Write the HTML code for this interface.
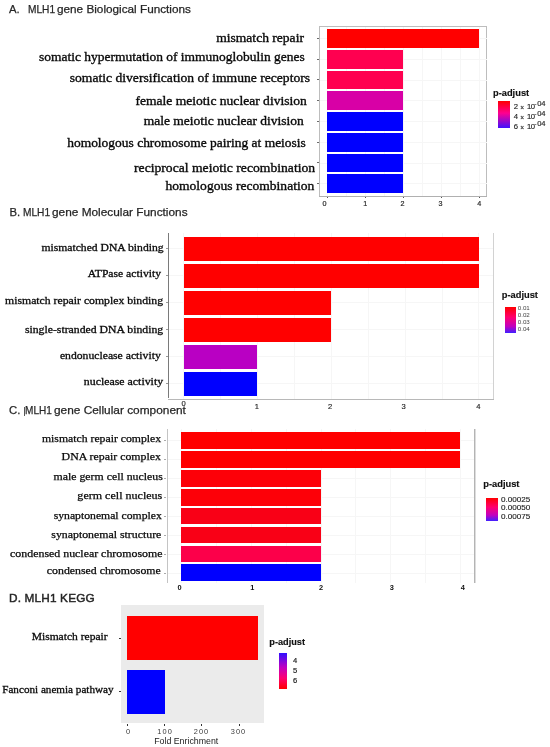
<!DOCTYPE html>
<html><head><meta charset="utf-8"><title>MLH1 enrichment</title>
<style>
html,body{margin:0;padding:0;background:#fff;}
body{width:550px;height:747px;position:relative;overflow:hidden;}
</style></head><body>
<div style="position:absolute;left:9.00px;top:3.73px;font:11.3px/11.3px 'Liberation Sans', sans-serif;color:#262626;white-space:nowrap;-webkit-text-stroke:0.25px #262626;">A.</div>
<div style="position:absolute;left:27.70px;top:3.73px;font:11.3px/11.3px 'Liberation Sans', sans-serif;color:#262626;white-space:nowrap;-webkit-text-stroke:0.25px #262626;transform:scaleX(0.9000);transform-origin:left 0;">MLH1</div>
<div style="position:absolute;left:56.90px;top:3.73px;font:11.3px/11.3px 'Liberation Sans', sans-serif;color:#262626;white-space:nowrap;-webkit-text-stroke:0.25px #262626;transform:scaleX(1.0400);transform-origin:left 0;">gene Biological Functions</div>
<div style="position:absolute;left:9.50px;top:206.63px;font:11.3px/11.3px 'Liberation Sans', sans-serif;color:#262626;white-space:nowrap;-webkit-text-stroke:0.25px #262626;">B.</div>
<div style="position:absolute;left:22.50px;top:206.63px;font:11.3px/11.3px 'Liberation Sans', sans-serif;color:#262626;white-space:nowrap;-webkit-text-stroke:0.25px #262626;transform:scaleX(0.9000);transform-origin:left 0;">MLH1</div>
<div style="position:absolute;left:51.90px;top:206.63px;font:11.3px/11.3px 'Liberation Sans', sans-serif;color:#262626;white-space:nowrap;-webkit-text-stroke:0.25px #262626;transform:scaleX(1.0480);transform-origin:left 0;">gene Molecular Functions</div>
<div style="position:absolute;left:9.10px;top:405.13px;font:11.3px/11.3px 'Liberation Sans', sans-serif;color:#262626;white-space:nowrap;-webkit-text-stroke:0.25px #262626;">C.</div>
<div style="position:absolute;left:24.30px;top:406.50px;width:0.80px;height:9.00px;background:#555;"></div>
<div style="position:absolute;left:25.10px;top:405.13px;font:11.3px/11.3px 'Liberation Sans', sans-serif;color:#262626;white-space:nowrap;-webkit-text-stroke:0.25px #262626;transform:scaleX(0.8900);transform-origin:left 0;">MLH1</div>
<div style="position:absolute;left:53.70px;top:405.13px;font:11.3px/11.3px 'Liberation Sans', sans-serif;color:#262626;white-space:nowrap;-webkit-text-stroke:0.25px #262626;transform:scaleX(1.0500);transform-origin:left 0;">gene Cellular component</div>
<div style="position:absolute;left:9.10px;top:593.01px;font:11.8px/11.8px 'Liberation Sans', sans-serif;color:#262626;white-space:nowrap;-webkit-text-stroke:0.45px #262626;letter-spacing:0.15px;">D. MLH1 KEGG</div>
<div style="position:absolute;left:326.75px;top:26.00px;width:0.50px;height:170.50px;background:#f6f6f6;"></div>
<div style="position:absolute;left:345.75px;top:26.00px;width:0.50px;height:170.50px;background:#f6f6f6;"></div>
<div style="position:absolute;left:364.75px;top:26.00px;width:0.50px;height:170.50px;background:#f6f6f6;"></div>
<div style="position:absolute;left:383.75px;top:26.00px;width:0.50px;height:170.50px;background:#f6f6f6;"></div>
<div style="position:absolute;left:402.75px;top:26.00px;width:0.50px;height:170.50px;background:#f6f6f6;"></div>
<div style="position:absolute;left:421.75px;top:26.00px;width:0.50px;height:170.50px;background:#f6f6f6;"></div>
<div style="position:absolute;left:440.75px;top:26.00px;width:0.50px;height:170.50px;background:#f6f6f6;"></div>
<div style="position:absolute;left:459.75px;top:26.00px;width:0.50px;height:170.50px;background:#f6f6f6;"></div>
<div style="position:absolute;left:478.75px;top:26.00px;width:0.50px;height:170.50px;background:#f6f6f6;"></div>
<div style="position:absolute;left:319.00px;top:26.00px;width:1.00px;height:171.00px;background:#bdbdbd;"></div>
<div style="position:absolute;left:486.00px;top:26.00px;width:1.00px;height:171.00px;background:#bdbdbd;"></div>
<div style="position:absolute;left:319.00px;top:26.00px;width:168.00px;height:1.00px;background:#bdbdbd;"></div>
<div style="position:absolute;left:319.00px;top:196.00px;width:168.00px;height:1.00px;background:#b0b0b0;"></div>
<div style="position:absolute;left:320.00px;top:38.15px;width:166.50px;height:0.50px;background:#f6f6f6;"></div>
<div style="position:absolute;left:320.00px;top:58.90px;width:166.50px;height:0.50px;background:#f6f6f6;"></div>
<div style="position:absolute;left:320.00px;top:79.65px;width:166.50px;height:0.50px;background:#f6f6f6;"></div>
<div style="position:absolute;left:320.00px;top:100.40px;width:166.50px;height:0.50px;background:#f6f6f6;"></div>
<div style="position:absolute;left:320.00px;top:121.15px;width:166.50px;height:0.50px;background:#f6f6f6;"></div>
<div style="position:absolute;left:320.00px;top:141.90px;width:166.50px;height:0.50px;background:#f6f6f6;"></div>
<div style="position:absolute;left:320.00px;top:162.65px;width:166.50px;height:0.50px;background:#f6f6f6;"></div>
<div style="position:absolute;left:320.00px;top:183.40px;width:166.50px;height:0.50px;background:#f6f6f6;"></div>
<div style="position:absolute;left:327.00px;top:29.00px;width:152.00px;height:18.80px;background:#ff0000;"></div>
<div style="position:absolute;left:317.00px;top:37.90px;width:2.00px;height:1.00px;background:#6a6a6a;"></div>
<div style="position:absolute;left:327.00px;top:49.75px;width:76.00px;height:18.80px;background:#ff0050;"></div>
<div style="position:absolute;left:317.00px;top:58.65px;width:2.00px;height:1.00px;background:#6a6a6a;"></div>
<div style="position:absolute;left:327.00px;top:70.50px;width:76.00px;height:18.80px;background:#ff0050;"></div>
<div style="position:absolute;left:317.00px;top:79.40px;width:2.00px;height:1.00px;background:#6a6a6a;"></div>
<div style="position:absolute;left:327.00px;top:91.25px;width:76.00px;height:18.80px;background:#d800a6;"></div>
<div style="position:absolute;left:317.00px;top:100.15px;width:2.00px;height:1.00px;background:#6a6a6a;"></div>
<div style="position:absolute;left:327.00px;top:112.00px;width:76.00px;height:18.80px;background:#0000ff;"></div>
<div style="position:absolute;left:317.00px;top:120.90px;width:2.00px;height:1.00px;background:#6a6a6a;"></div>
<div style="position:absolute;left:327.00px;top:132.75px;width:76.00px;height:18.80px;background:#0000ff;"></div>
<div style="position:absolute;left:317.00px;top:141.65px;width:2.00px;height:1.00px;background:#6a6a6a;"></div>
<div style="position:absolute;left:327.00px;top:153.50px;width:76.00px;height:18.80px;background:#0000ff;"></div>
<div style="position:absolute;left:317.00px;top:162.40px;width:2.00px;height:1.00px;background:#6a6a6a;"></div>
<div style="position:absolute;left:327.00px;top:174.25px;width:76.00px;height:18.80px;background:#0000ff;"></div>
<div style="position:absolute;left:317.00px;top:183.15px;width:2.00px;height:1.00px;background:#6a6a6a;"></div>
<div style="position:absolute;left:326.50px;top:197.00px;width:1.00px;height:1.00px;background:#555;"></div>
<div style="position:absolute;left:364.50px;top:197.00px;width:1.00px;height:1.00px;background:#555;"></div>
<div style="position:absolute;left:402.50px;top:197.00px;width:1.00px;height:1.00px;background:#555;"></div>
<div style="position:absolute;left:440.50px;top:197.00px;width:1.00px;height:1.00px;background:#555;"></div>
<div style="position:absolute;left:478.50px;top:197.00px;width:1.00px;height:1.00px;background:#555;"></div>
<div style="position:absolute;right:246.50px;text-align:right;top:31.13px;font:12.98076923076923px/12.98076923076923px 'Liberation Serif', serif;color:#0a0a0a;white-space:nowrap;-webkit-text-stroke:0.35px #0a0a0a;transform:scaleX(1.0448);transform-origin:right 0;">mismatch repair</div>
<div style="position:absolute;right:244.80px;text-align:right;top:49.93px;font:12.98076923076923px/12.98076923076923px 'Liberation Serif', serif;color:#0a0a0a;white-space:nowrap;-webkit-text-stroke:0.35px #0a0a0a;transform:scaleX(1.0391);transform-origin:right 0;">somatic hypermutation of immunoglobulin genes</div>
<div style="position:absolute;right:240.00px;text-align:right;top:71.33px;font:12.98076923076923px/12.98076923076923px 'Liberation Serif', serif;color:#0a0a0a;white-space:nowrap;-webkit-text-stroke:0.35px #0a0a0a;transform:scaleX(1.0491);transform-origin:right 0;">somatic diversification of immune receptors</div>
<div style="position:absolute;right:243.60px;text-align:right;top:93.83px;font:12.98076923076923px/12.98076923076923px 'Liberation Serif', serif;color:#0a0a0a;white-space:nowrap;-webkit-text-stroke:0.35px #0a0a0a;transform:scaleX(1.0464);transform-origin:right 0;">female meiotic nuclear division</div>
<div style="position:absolute;right:246.50px;text-align:right;top:114.13px;font:12.98076923076923px/12.98076923076923px 'Liberation Serif', serif;color:#0a0a0a;white-space:nowrap;-webkit-text-stroke:0.35px #0a0a0a;transform:scaleX(1.0410);transform-origin:right 0;">male meiotic nuclear division</div>
<div style="position:absolute;right:244.00px;text-align:right;top:136.33px;font:12.98076923076923px/12.98076923076923px 'Liberation Serif', serif;color:#0a0a0a;white-space:nowrap;-webkit-text-stroke:0.35px #0a0a0a;transform:scaleX(1.0383);transform-origin:right 0;">homologous chromosome pairing at meiosis</div>
<div style="position:absolute;right:235.00px;text-align:right;top:160.53px;font:12.98076923076923px/12.98076923076923px 'Liberation Serif', serif;color:#0a0a0a;white-space:nowrap;-webkit-text-stroke:0.35px #0a0a0a;transform:scaleX(1.0521);transform-origin:right 0;">reciprocal meiotic recombination</div>
<div style="position:absolute;right:235.30px;text-align:right;top:179.13px;font:12.98076923076923px/12.98076923076923px 'Liberation Serif', serif;color:#0a0a0a;white-space:nowrap;-webkit-text-stroke:0.35px #0a0a0a;transform:scaleX(1.0462);transform-origin:right 0;">homologous recombination</div>
<div style="position:absolute;left:224.50px;width:200px;text-align:center;top:199.98px;font:7.2px/7.2px 'Liberation Sans', sans-serif;color:#2a2a2a;white-space:nowrap;-webkit-text-stroke:0.2px #2a2a2a;">0</div>
<div style="position:absolute;left:265.30px;width:200px;text-align:center;top:199.98px;font:7.2px/7.2px 'Liberation Sans', sans-serif;color:#2a2a2a;white-space:nowrap;-webkit-text-stroke:0.2px #2a2a2a;">1</div>
<div style="position:absolute;left:302.50px;width:200px;text-align:center;top:199.98px;font:7.2px/7.2px 'Liberation Sans', sans-serif;color:#2a2a2a;white-space:nowrap;-webkit-text-stroke:0.2px #2a2a2a;">2</div>
<div style="position:absolute;left:340.60px;width:200px;text-align:center;top:199.98px;font:7.2px/7.2px 'Liberation Sans', sans-serif;color:#2a2a2a;white-space:nowrap;-webkit-text-stroke:0.2px #2a2a2a;">3</div>
<div style="position:absolute;left:379.30px;width:200px;text-align:center;top:199.98px;font:7.2px/7.2px 'Liberation Sans', sans-serif;color:#2a2a2a;white-space:nowrap;-webkit-text-stroke:0.2px #2a2a2a;">4</div>
<div style="position:absolute;left:493.00px;top:89.43px;font:9.3px/9.3px 'Liberation Sans', sans-serif;font-weight:bold;color:#111;white-space:nowrap;-webkit-text-stroke:0.15px #111;">p-adjust</div>
<div style="position:absolute;left:498.00px;top:101.30px;width:12.00px;height:26.60px;background:linear-gradient(#ff0000, #ff0090 45%, #4010ff);"></div>
<div style="position:absolute;left:513.80px;top:103.08px;font:7.7px/7.7px 'Liberation Sans', sans-serif;color:#262626;white-space:nowrap;-webkit-text-stroke:0.15px #262626;">2</div>
<div style="position:absolute;left:520.20px;top:104.61px;font:6.6px/6.6px 'Liberation Sans', sans-serif;color:#262626;white-space:nowrap;-webkit-text-stroke:0.15px #262626;">×</div>
<div style="position:absolute;left:527.00px;top:103.08px;font:7.7px/7.7px 'Liberation Sans', sans-serif;color:#262626;white-space:nowrap;-webkit-text-stroke:0.15px #262626;letter-spacing:-0.6px;">10</div>
<div style="position:absolute;left:534.20px;top:99.87px;font:7.0px/7.0px 'Liberation Sans', sans-serif;color:#262626;white-space:nowrap;-webkit-text-stroke:0.15px #262626;">-</div>
<div style="position:absolute;left:537.30px;top:100.17px;font:7.6px/7.6px 'Liberation Sans', sans-serif;color:#262626;white-space:nowrap;-webkit-text-stroke:0.15px #262626;letter-spacing:-0.3px;">04</div>
<div style="position:absolute;left:513.80px;top:113.28px;font:7.7px/7.7px 'Liberation Sans', sans-serif;color:#262626;white-space:nowrap;-webkit-text-stroke:0.15px #262626;">4</div>
<div style="position:absolute;left:520.20px;top:114.81px;font:6.6px/6.6px 'Liberation Sans', sans-serif;color:#262626;white-space:nowrap;-webkit-text-stroke:0.15px #262626;">×</div>
<div style="position:absolute;left:527.00px;top:113.28px;font:7.7px/7.7px 'Liberation Sans', sans-serif;color:#262626;white-space:nowrap;-webkit-text-stroke:0.15px #262626;letter-spacing:-0.6px;">10</div>
<div style="position:absolute;left:534.20px;top:110.07px;font:7.0px/7.0px 'Liberation Sans', sans-serif;color:#262626;white-space:nowrap;-webkit-text-stroke:0.15px #262626;">-</div>
<div style="position:absolute;left:537.30px;top:110.37px;font:7.6px/7.6px 'Liberation Sans', sans-serif;color:#262626;white-space:nowrap;-webkit-text-stroke:0.15px #262626;letter-spacing:-0.3px;">04</div>
<div style="position:absolute;left:513.80px;top:123.38px;font:7.7px/7.7px 'Liberation Sans', sans-serif;color:#262626;white-space:nowrap;-webkit-text-stroke:0.15px #262626;">6</div>
<div style="position:absolute;left:520.20px;top:124.91px;font:6.6px/6.6px 'Liberation Sans', sans-serif;color:#262626;white-space:nowrap;-webkit-text-stroke:0.15px #262626;">×</div>
<div style="position:absolute;left:527.00px;top:123.38px;font:7.7px/7.7px 'Liberation Sans', sans-serif;color:#262626;white-space:nowrap;-webkit-text-stroke:0.15px #262626;letter-spacing:-0.6px;">10</div>
<div style="position:absolute;left:534.20px;top:120.17px;font:7.0px/7.0px 'Liberation Sans', sans-serif;color:#262626;white-space:nowrap;-webkit-text-stroke:0.15px #262626;">-</div>
<div style="position:absolute;left:537.30px;top:120.47px;font:7.6px/7.6px 'Liberation Sans', sans-serif;color:#262626;white-space:nowrap;-webkit-text-stroke:0.15px #262626;letter-spacing:-0.3px;">04</div>
<div style="position:absolute;left:183.25px;top:232.50px;width:0.50px;height:166.80px;background:#f6f6f6;"></div>
<div style="position:absolute;left:220.15px;top:232.50px;width:0.50px;height:166.80px;background:#f6f6f6;"></div>
<div style="position:absolute;left:257.05px;top:232.50px;width:0.50px;height:166.80px;background:#f6f6f6;"></div>
<div style="position:absolute;left:293.95px;top:232.50px;width:0.50px;height:166.80px;background:#f6f6f6;"></div>
<div style="position:absolute;left:330.85px;top:232.50px;width:0.50px;height:166.80px;background:#f6f6f6;"></div>
<div style="position:absolute;left:367.75px;top:232.50px;width:0.50px;height:166.80px;background:#f6f6f6;"></div>
<div style="position:absolute;left:404.65px;top:232.50px;width:0.50px;height:166.80px;background:#f6f6f6;"></div>
<div style="position:absolute;left:441.55px;top:232.50px;width:0.50px;height:166.80px;background:#f6f6f6;"></div>
<div style="position:absolute;left:478.45px;top:232.50px;width:0.50px;height:166.80px;background:#f6f6f6;"></div>
<div style="position:absolute;left:168.50px;top:248.25px;width:325.00px;height:0.50px;background:#f6f6f6;"></div>
<div style="position:absolute;left:168.50px;top:275.25px;width:325.00px;height:0.50px;background:#f6f6f6;"></div>
<div style="position:absolute;left:168.50px;top:302.25px;width:325.00px;height:0.50px;background:#f6f6f6;"></div>
<div style="position:absolute;left:168.50px;top:329.25px;width:325.00px;height:0.50px;background:#f6f6f6;"></div>
<div style="position:absolute;left:168.50px;top:356.25px;width:325.00px;height:0.50px;background:#f6f6f6;"></div>
<div style="position:absolute;left:168.50px;top:383.25px;width:325.00px;height:0.50px;background:#f6f6f6;"></div>
<div style="position:absolute;left:493.00px;top:232.50px;width:1.00px;height:166.80px;background:#d2d2d2;"></div>
<div style="position:absolute;left:168.00px;top:232.50px;width:1.00px;height:165.50px;background:#7a7a7a;"></div>
<div style="position:absolute;left:168.00px;top:399.00px;width:326.00px;height:1.00px;background:#b8b8b8;"></div>
<div style="position:absolute;left:183.50px;top:236.50px;width:295.20px;height:24.00px;background:#ff0000;"></div>
<div style="position:absolute;left:165.50px;top:248.00px;width:2.50px;height:1.00px;background:#999;"></div>
<div style="position:absolute;left:183.50px;top:263.50px;width:295.20px;height:24.00px;background:#ff0000;"></div>
<div style="position:absolute;left:165.50px;top:275.00px;width:2.50px;height:1.00px;background:#999;"></div>
<div style="position:absolute;left:183.50px;top:290.50px;width:147.60px;height:24.00px;background:#ff0000;"></div>
<div style="position:absolute;left:165.50px;top:302.00px;width:2.50px;height:1.00px;background:#999;"></div>
<div style="position:absolute;left:183.50px;top:317.50px;width:147.60px;height:24.00px;background:#ff0000;"></div>
<div style="position:absolute;left:165.50px;top:329.00px;width:2.50px;height:1.00px;background:#999;"></div>
<div style="position:absolute;left:183.50px;top:344.50px;width:73.80px;height:24.00px;background:#b900c3;"></div>
<div style="position:absolute;left:165.50px;top:356.00px;width:2.50px;height:1.00px;background:#999;"></div>
<div style="position:absolute;left:183.50px;top:371.50px;width:73.80px;height:24.00px;background:#0000ff;"></div>
<div style="position:absolute;left:165.50px;top:383.00px;width:2.50px;height:1.00px;background:#999;"></div>
<div style="position:absolute;right:386.80px;text-align:right;top:243.19px;font:10.636363636363635px/10.636363636363635px 'Liberation Serif', serif;color:#0a0a0a;white-space:nowrap;-webkit-text-stroke:0.3px #0a0a0a;transform:scaleX(1.0943);transform-origin:right 0;">mismatched DNA binding</div>
<div style="position:absolute;right:389.30px;text-align:right;top:269.39px;font:10.636363636363635px/10.636363636363635px 'Liberation Serif', serif;color:#0a0a0a;white-space:nowrap;-webkit-text-stroke:0.3px #0a0a0a;transform:scaleX(1.0941);transform-origin:right 0;">ATPase activity</div>
<div style="position:absolute;right:386.80px;text-align:right;top:295.69px;font:10.636363636363635px/10.636363636363635px 'Liberation Serif', serif;color:#0a0a0a;white-space:nowrap;-webkit-text-stroke:0.3px #0a0a0a;transform:scaleX(1.1045);transform-origin:right 0;">mismatch repair complex binding</div>
<div style="position:absolute;right:386.80px;text-align:right;top:324.69px;font:10.636363636363635px/10.636363636363635px 'Liberation Serif', serif;color:#0a0a0a;white-space:nowrap;-webkit-text-stroke:0.3px #0a0a0a;transform:scaleX(1.1045);transform-origin:right 0;">single-stranded DNA binding</div>
<div style="position:absolute;right:389.30px;text-align:right;top:350.99px;font:10.636363636363635px/10.636363636363635px 'Liberation Serif', serif;color:#0a0a0a;white-space:nowrap;-webkit-text-stroke:0.3px #0a0a0a;transform:scaleX(1.0992);transform-origin:right 0;">endonuclease activity</div>
<div style="position:absolute;right:386.80px;text-align:right;top:377.19px;font:10.636363636363635px/10.636363636363635px 'Liberation Serif', serif;color:#0a0a0a;white-space:nowrap;-webkit-text-stroke:0.3px #0a0a0a;transform:scaleX(1.1146);transform-origin:right 0;">nuclease activity</div>
<div style="position:absolute;left:83.70px;width:200px;text-align:center;top:400.49px;font:7.6px/7.6px 'Liberation Sans', sans-serif;color:#222;white-space:nowrap;-webkit-text-stroke:0.15px #222;">0</div>
<div style="position:absolute;left:156.80px;width:200px;text-align:center;top:403.19px;font:7.6px/7.6px 'Liberation Sans', sans-serif;color:#222;white-space:nowrap;-webkit-text-stroke:0.15px #222;">1</div>
<div style="position:absolute;left:230.20px;width:200px;text-align:center;top:403.09px;font:7.6px/7.6px 'Liberation Sans', sans-serif;color:#222;white-space:nowrap;-webkit-text-stroke:0.15px #222;">2</div>
<div style="position:absolute;left:303.50px;width:200px;text-align:center;top:403.09px;font:7.6px/7.6px 'Liberation Sans', sans-serif;color:#222;white-space:nowrap;-webkit-text-stroke:0.15px #222;">3</div>
<div style="position:absolute;left:378.30px;width:200px;text-align:center;top:402.89px;font:7.6px/7.6px 'Liberation Sans', sans-serif;color:#222;white-space:nowrap;-webkit-text-stroke:0.15px #222;">4</div>
<div style="position:absolute;left:501.80px;top:290.63px;font:9.3px/9.3px 'Liberation Sans', sans-serif;font-weight:bold;color:#111;white-space:nowrap;-webkit-text-stroke:0.15px #111;">p-adjust</div>
<div style="position:absolute;left:504.50px;top:306.50px;width:11.70px;height:26.00px;background:linear-gradient(#ff0000, #ff0070 40%, #c000c0 75%, #4020ff);"></div>
<div style="position:absolute;left:423.80px;width:200px;text-align:center;top:304.77px;font:6.2px/6.2px 'Liberation Sans', sans-serif;color:#444;white-space:nowrap;">0.01</div>
<div style="position:absolute;left:423.80px;width:200px;text-align:center;top:311.77px;font:6.2px/6.2px 'Liberation Sans', sans-serif;color:#444;white-space:nowrap;">0.02</div>
<div style="position:absolute;left:423.80px;width:200px;text-align:center;top:318.77px;font:6.2px/6.2px 'Liberation Sans', sans-serif;color:#444;white-space:nowrap;">0.03</div>
<div style="position:absolute;left:423.80px;width:200px;text-align:center;top:325.97px;font:6.2px/6.2px 'Liberation Sans', sans-serif;color:#444;white-space:nowrap;">0.04</div>
<div style="position:absolute;left:181.05px;top:429.30px;width:0.50px;height:154.20px;background:#f6f6f6;"></div>
<div style="position:absolute;left:215.93px;top:429.30px;width:0.50px;height:154.20px;background:#f6f6f6;"></div>
<div style="position:absolute;left:250.80px;top:429.30px;width:0.50px;height:154.20px;background:#f6f6f6;"></div>
<div style="position:absolute;left:285.68px;top:429.30px;width:0.50px;height:154.20px;background:#f6f6f6;"></div>
<div style="position:absolute;left:320.55px;top:429.30px;width:0.50px;height:154.20px;background:#f6f6f6;"></div>
<div style="position:absolute;left:355.43px;top:429.30px;width:0.50px;height:154.20px;background:#f6f6f6;"></div>
<div style="position:absolute;left:390.30px;top:429.30px;width:0.50px;height:154.20px;background:#f6f6f6;"></div>
<div style="position:absolute;left:425.18px;top:429.30px;width:0.50px;height:154.20px;background:#f6f6f6;"></div>
<div style="position:absolute;left:460.05px;top:429.30px;width:0.50px;height:154.20px;background:#f6f6f6;"></div>
<div style="position:absolute;left:167.20px;top:440.00px;width:307.40px;height:0.50px;background:#f6f6f6;"></div>
<div style="position:absolute;left:167.20px;top:458.95px;width:307.40px;height:0.50px;background:#f6f6f6;"></div>
<div style="position:absolute;left:167.20px;top:477.90px;width:307.40px;height:0.50px;background:#f6f6f6;"></div>
<div style="position:absolute;left:167.20px;top:496.85px;width:307.40px;height:0.50px;background:#f6f6f6;"></div>
<div style="position:absolute;left:167.20px;top:515.80px;width:307.40px;height:0.50px;background:#f6f6f6;"></div>
<div style="position:absolute;left:167.20px;top:534.75px;width:307.40px;height:0.50px;background:#f6f6f6;"></div>
<div style="position:absolute;left:167.20px;top:553.70px;width:307.40px;height:0.50px;background:#f6f6f6;"></div>
<div style="position:absolute;left:167.20px;top:572.65px;width:307.40px;height:0.50px;background:#f6f6f6;"></div>
<div style="position:absolute;left:166.70px;top:429.30px;width:1.00px;height:154.20px;background:#c4c4c4;"></div>
<div style="position:absolute;left:474.00px;top:429.30px;width:1.00px;height:154.20px;background:#b4b4b4;"></div>
<div style="position:absolute;left:475.00px;top:429.30px;width:0.60px;height:154.20px;background:#dddddd;"></div>
<div style="position:absolute;left:181.30px;top:431.80px;width:279.00px;height:16.90px;background:#ff0000;"></div>
<div style="position:absolute;left:163.70px;top:439.85px;width:2.50px;height:0.80px;background:#aaa;"></div>
<div style="position:absolute;left:181.30px;top:450.75px;width:279.00px;height:16.90px;background:#ff0000;"></div>
<div style="position:absolute;left:163.70px;top:458.80px;width:2.50px;height:0.80px;background:#aaa;"></div>
<div style="position:absolute;left:181.30px;top:469.70px;width:139.50px;height:16.90px;background:#fd0008;"></div>
<div style="position:absolute;left:163.70px;top:477.75px;width:2.50px;height:0.80px;background:#aaa;"></div>
<div style="position:absolute;left:181.30px;top:488.65px;width:139.50px;height:16.90px;background:#fd0008;"></div>
<div style="position:absolute;left:163.70px;top:496.70px;width:2.50px;height:0.80px;background:#aaa;"></div>
<div style="position:absolute;left:181.30px;top:507.60px;width:139.50px;height:16.90px;background:#f90016;"></div>
<div style="position:absolute;left:163.70px;top:515.65px;width:2.50px;height:0.80px;background:#aaa;"></div>
<div style="position:absolute;left:181.30px;top:526.55px;width:139.50px;height:16.90px;background:#f90016;"></div>
<div style="position:absolute;left:163.70px;top:534.60px;width:2.50px;height:0.80px;background:#aaa;"></div>
<div style="position:absolute;left:181.30px;top:545.50px;width:139.50px;height:16.90px;background:#fc004a;"></div>
<div style="position:absolute;left:163.70px;top:553.55px;width:2.50px;height:0.80px;background:#aaa;"></div>
<div style="position:absolute;left:181.30px;top:564.45px;width:139.50px;height:16.90px;background:#0000ff;"></div>
<div style="position:absolute;left:163.70px;top:572.50px;width:2.50px;height:0.80px;background:#aaa;"></div>
<div style="position:absolute;right:388.60px;text-align:right;top:433.81px;font:10.260869565217392px/10.260869565217392px 'Liberation Serif', serif;color:#0a0a0a;white-space:nowrap;-webkit-text-stroke:0.25px #0a0a0a;transform:scaleX(1.1446);transform-origin:right 0;">mismatch repair complex</div>
<div style="position:absolute;right:388.80px;text-align:right;top:452.31px;font:10.260869565217392px/10.260869565217392px 'Liberation Serif', serif;color:#0a0a0a;white-space:nowrap;-webkit-text-stroke:0.25px #0a0a0a;transform:scaleX(1.1556);transform-origin:right 0;">DNA repair complex</div>
<div style="position:absolute;right:387.70px;text-align:right;top:472.41px;font:10.260869565217392px/10.260869565217392px 'Liberation Serif', serif;color:#0a0a0a;white-space:nowrap;-webkit-text-stroke:0.25px #0a0a0a;transform:scaleX(1.1525);transform-origin:right 0;">male germ cell nucleus</div>
<div style="position:absolute;right:387.70px;text-align:right;top:491.01px;font:10.260869565217392px/10.260869565217392px 'Liberation Serif', serif;color:#0a0a0a;white-space:nowrap;-webkit-text-stroke:0.25px #0a0a0a;transform:scaleX(1.1747);transform-origin:right 0;">germ cell nucleus</div>
<div style="position:absolute;right:388.60px;text-align:right;top:510.71px;font:10.260869565217392px/10.260869565217392px 'Liberation Serif', serif;color:#0a0a0a;white-space:nowrap;-webkit-text-stroke:0.25px #0a0a0a;transform:scaleX(1.1406);transform-origin:right 0;">synaptonemal complex</div>
<div style="position:absolute;right:388.60px;text-align:right;top:530.21px;font:10.260869565217392px/10.260869565217392px 'Liberation Serif', serif;color:#0a0a0a;white-space:nowrap;-webkit-text-stroke:0.25px #0a0a0a;transform:scaleX(1.1542);transform-origin:right 0;">synaptonemal structure</div>
<div style="position:absolute;right:387.70px;text-align:right;top:548.81px;font:10.260869565217392px/10.260869565217392px 'Liberation Serif', serif;color:#0a0a0a;white-space:nowrap;-webkit-text-stroke:0.25px #0a0a0a;transform:scaleX(1.1592);transform-origin:right 0;">condensed nuclear chromosome</div>
<div style="position:absolute;right:389.30px;text-align:right;top:566.31px;font:10.260869565217392px/10.260869565217392px 'Liberation Serif', serif;color:#0a0a0a;white-space:nowrap;-webkit-text-stroke:0.25px #0a0a0a;transform:scaleX(1.1533);transform-origin:right 0;">condensed chromosome</div>
<div style="position:absolute;left:79.50px;width:200px;text-align:center;top:584.19px;font:7.4px/7.4px 'Liberation Sans', sans-serif;font-weight:bold;color:#111;white-space:nowrap;">0</div>
<div style="position:absolute;left:152.20px;width:200px;text-align:center;top:584.19px;font:7.4px/7.4px 'Liberation Sans', sans-serif;font-weight:bold;color:#111;white-space:nowrap;">1</div>
<div style="position:absolute;left:221.10px;width:200px;text-align:center;top:584.19px;font:7.4px/7.4px 'Liberation Sans', sans-serif;font-weight:bold;color:#111;white-space:nowrap;">2</div>
<div style="position:absolute;left:291.90px;width:200px;text-align:center;top:584.19px;font:7.4px/7.4px 'Liberation Sans', sans-serif;font-weight:bold;color:#111;white-space:nowrap;">3</div>
<div style="position:absolute;left:362.80px;width:200px;text-align:center;top:584.19px;font:7.4px/7.4px 'Liberation Sans', sans-serif;font-weight:bold;color:#111;white-space:nowrap;">4</div>
<div style="position:absolute;left:483.30px;top:479.93px;font:9.3px/9.3px 'Liberation Sans', sans-serif;font-weight:bold;color:#111;white-space:nowrap;-webkit-text-stroke:0.15px #111;">p-adjust</div>
<div style="position:absolute;left:486.20px;top:497.70px;width:11.50px;height:23.80px;background:linear-gradient(#ff0000, #ff0070 40%, #c000c0 75%, #4020ff);"></div>
<div style="position:absolute;left:415.70px;width:200px;text-align:center;top:495.54px;font:8.1px/8.1px 'Liberation Sans', sans-serif;color:#1e1e1e;white-space:nowrap;-webkit-text-stroke:0.15px #1e1e1e;">0.00025</div>
<div style="position:absolute;left:415.70px;width:200px;text-align:center;top:503.94px;font:8.1px/8.1px 'Liberation Sans', sans-serif;color:#1e1e1e;white-space:nowrap;-webkit-text-stroke:0.15px #1e1e1e;">0.00050</div>
<div style="position:absolute;left:415.70px;width:200px;text-align:center;top:512.84px;font:8.1px/8.1px 'Liberation Sans', sans-serif;color:#1e1e1e;white-space:nowrap;-webkit-text-stroke:0.15px #1e1e1e;">0.00075</div>
<div style="position:absolute;left:121.00px;top:605.40px;width:142.80px;height:118.10px;background:#ebebeb;"></div>
<div style="position:absolute;left:127.30px;top:616.00px;width:130.75px;height:44.00px;background:#ff0000;"></div>
<div style="position:absolute;left:127.30px;top:670.00px;width:37.25px;height:43.70px;background:#0000ff;"></div>
<div style="position:absolute;left:118.50px;top:637.50px;width:2.50px;height:1.00px;background:#333;"></div>
<div style="position:absolute;left:118.50px;top:691.30px;width:2.50px;height:1.00px;background:#333;"></div>
<div style="position:absolute;right:442.70px;text-align:right;top:631.20px;font:10.74074074074074px/10.74074074074074px 'Liberation Serif', serif;color:#0a0a0a;white-space:nowrap;-webkit-text-stroke:0.3px #0a0a0a;transform:scaleX(1.0755);transform-origin:right 0;">Mismatch repair</div>
<div style="position:absolute;right:436.40px;text-align:right;top:684.95px;font:10.571428571428571px/10.571428571428571px 'Liberation Serif', serif;color:#0a0a0a;white-space:nowrap;-webkit-text-stroke:0.3px #0a0a0a;transform:scaleX(1.0546);transform-origin:right 0;">Fanconi anemia pathway</div>
<div style="position:absolute;left:126.80px;top:723.50px;width:1.00px;height:2.20px;background:#333;"></div>
<div style="position:absolute;left:28.50px;width:200px;text-align:center;top:727.59px;font:7.4px/7.4px 'Liberation Sans', sans-serif;color:#3a3a3a;white-space:nowrap;letter-spacing:1.1px;">0</div>
<div style="position:absolute;left:164.05px;top:723.50px;width:1.00px;height:2.20px;background:#333;"></div>
<div style="position:absolute;left:65.20px;width:200px;text-align:center;top:727.59px;font:7.4px/7.4px 'Liberation Sans', sans-serif;color:#3a3a3a;white-space:nowrap;letter-spacing:1.1px;">100</div>
<div style="position:absolute;left:201.30px;top:723.50px;width:1.00px;height:2.20px;background:#333;"></div>
<div style="position:absolute;left:101.50px;width:200px;text-align:center;top:727.59px;font:7.4px/7.4px 'Liberation Sans', sans-serif;color:#3a3a3a;white-space:nowrap;letter-spacing:1.1px;">200</div>
<div style="position:absolute;left:238.55px;top:723.50px;width:1.00px;height:2.20px;background:#333;"></div>
<div style="position:absolute;left:138.50px;width:200px;text-align:center;top:727.59px;font:7.4px/7.4px 'Liberation Sans', sans-serif;color:#3a3a3a;white-space:nowrap;letter-spacing:1.1px;">300</div>
<div style="position:absolute;left:154.20px;top:737.15px;font:8.8px/8.8px 'Liberation Sans', sans-serif;color:#222;white-space:nowrap;">Fold Enrichment</div>
<div style="position:absolute;left:269.30px;top:637.81px;font:9.2px/9.2px 'Liberation Sans', sans-serif;font-weight:bold;color:#111;white-space:nowrap;-webkit-text-stroke:0.15px #111;">p-adjust</div>
<div style="position:absolute;left:278.80px;top:652.90px;width:8.50px;height:36.20px;background:linear-gradient(#3010ff, #c000c0 40%, #ff0070 70%, #ff0000);"></div>
<div style="position:absolute;left:195.20px;width:200px;text-align:center;top:656.59px;font:7.6px/7.6px 'Liberation Sans', sans-serif;color:#222;white-space:nowrap;-webkit-text-stroke:0.2px #222;">4</div>
<div style="position:absolute;left:195.20px;width:200px;text-align:center;top:666.69px;font:7.6px/7.6px 'Liberation Sans', sans-serif;color:#222;white-space:nowrap;-webkit-text-stroke:0.2px #222;">5</div>
<div style="position:absolute;left:195.20px;width:200px;text-align:center;top:676.99px;font:7.6px/7.6px 'Liberation Sans', sans-serif;color:#222;white-space:nowrap;-webkit-text-stroke:0.2px #222;">6</div>
</body></html>
